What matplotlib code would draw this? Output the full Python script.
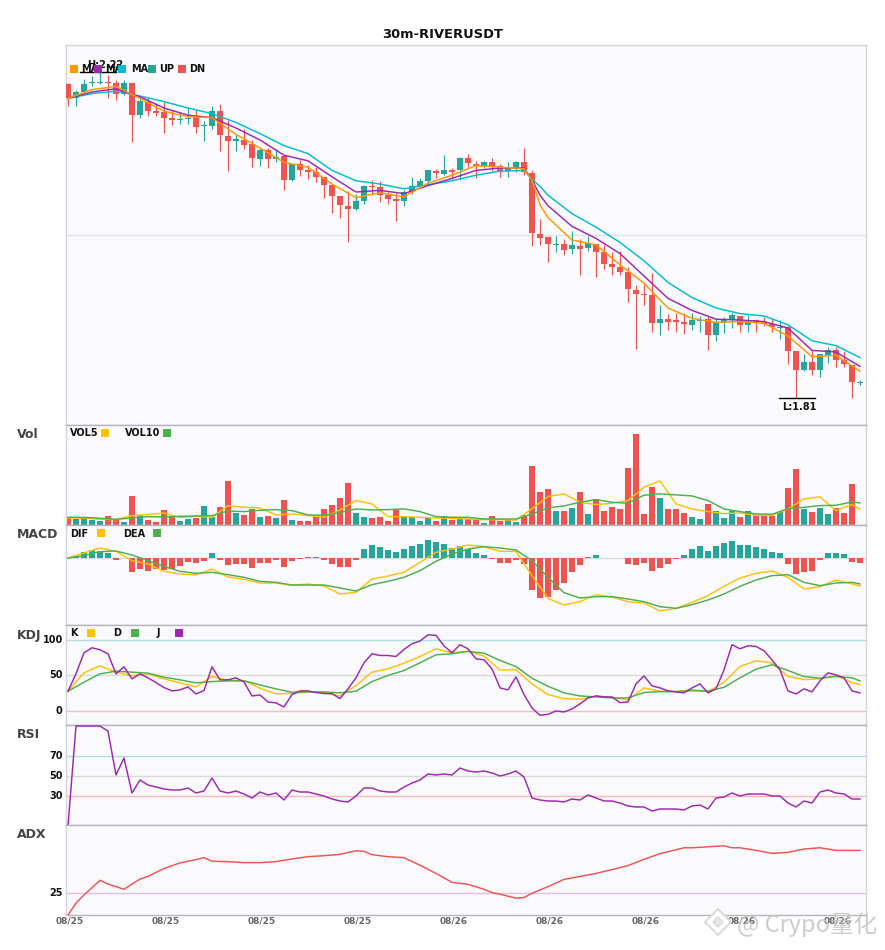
import matplotlib
matplotlib.use('Agg')
import matplotlib.pyplot as plt
from matplotlib.patches import Rectangle, Polygon

W, H = 885, 950

# candles
opens = [2.205,2.187,2.195,2.206,2.206,2.207,2.206,2.193,2.206,2.166,
         2.183,2.171,2.170,2.163,2.160,2.161,2.164,2.152,2.153,2.171,
         2.140,2.134,2.135,2.130,2.111,2.123,2.111,2.115,2.085,2.105,
         2.098,2.095,2.089,2.079,2.065,2.053,2.049,2.059,2.078,2.076,
         2.066,2.061,2.059,2.070,2.078,2.084,2.096,2.093,2.098,2.098,
         2.113,2.105,2.103,2.108,2.103,2.096,2.101,2.108,2.094,2.018,
         2.014,2.004,2.005,1.999,2.003,2.000,2.005,1.995,1.980,1.976,
         1.970,1.948,1.943,1.941,1.906,1.911,1.909,1.908,1.904,1.909,
         1.911,1.891,1.908,1.910,1.915,1.904,1.909,1.908,1.905,1.900,
         1.901,1.871,1.848,1.858,1.848,1.866,1.873,1.860,1.854,1.831]
closes = [2.187,2.195,2.205,2.208,2.208,2.206,2.193,2.206,2.166,2.184,
          2.171,2.169,2.163,2.160,2.161,2.163,2.151,2.154,2.171,2.141,
          2.134,2.136,2.129,2.113,2.123,2.111,2.114,2.085,2.105,2.098,
          2.095,2.089,2.079,2.065,2.054,2.049,2.059,2.078,2.076,2.066,
          2.061,2.059,2.070,2.078,2.084,2.098,2.094,2.098,2.095,2.113,
          2.106,2.103,2.108,2.103,2.096,2.100,2.108,2.095,2.019,2.013,
          2.005,2.005,1.998,2.004,1.999,2.006,1.995,1.980,1.976,1.970,
          1.949,1.943,1.941,1.906,1.911,1.908,1.908,1.905,1.910,1.910,
          1.891,1.908,1.910,1.916,1.904,1.909,1.908,1.905,1.901,1.901,
          1.871,1.848,1.858,1.848,1.868,1.873,1.860,1.855,1.833,1.833]
highs = [2.206,2.198,2.211,2.215,2.220,2.216,2.210,2.210,2.206,2.188,
         2.187,2.181,2.182,2.172,2.170,2.175,2.173,2.159,2.178,2.180,
         2.160,2.141,2.149,2.135,2.125,2.125,2.124,2.116,2.105,2.110,
         2.104,2.101,2.089,2.079,2.065,2.071,2.068,2.079,2.085,2.084,
         2.070,2.069,2.073,2.089,2.088,2.098,2.099,2.116,2.100,2.114,
         2.118,2.109,2.109,2.113,2.105,2.108,2.109,2.125,2.098,2.036,
         2.015,2.015,2.011,2.021,2.011,2.015,2.005,2.004,1.995,1.996,
         1.976,1.954,1.955,1.969,1.929,1.918,1.919,1.919,1.919,1.915,
         1.915,1.913,1.914,1.919,1.915,1.916,1.911,1.914,1.911,1.910,
         1.903,1.871,1.868,1.873,1.868,1.876,1.876,1.871,1.854,1.835]
lows = [2.178,2.177,2.195,2.202,2.205,2.187,2.185,2.191,2.132,2.162,
        2.165,2.165,2.144,2.154,2.155,2.155,2.144,2.134,2.149,2.121,
        2.096,2.121,2.124,2.101,2.103,2.100,2.108,2.073,2.084,2.090,
        2.086,2.083,2.063,2.044,2.038,2.008,2.048,2.055,2.068,2.058,
        2.055,2.034,2.053,2.068,2.075,2.079,2.088,2.091,2.086,2.085,
        2.101,2.088,2.100,2.096,2.089,2.089,2.095,2.091,2.003,2.004,
        1.983,1.995,1.991,1.993,1.966,1.996,1.964,1.974,1.966,1.966,
        1.933,1.874,1.929,1.895,1.891,1.898,1.895,1.893,1.898,1.895,
        1.873,1.884,1.894,1.900,1.895,1.895,1.895,1.903,1.895,1.886,
        1.855,1.8125,1.846,1.841,1.839,1.856,1.851,1.851,1.8125,1.829]

# moving averages, read every third candle and through the drop at 57-60
ma_idx = list(range(0, 58, 3)) + [58, 59] + list(range(60, 100, 3))
ma_fast = [2.187,2.198,2.202,2.187,2.171,2.164,2.163,2.142,2.125,2.107,2.101,2.080,
           2.063,2.069,2.064,2.081,2.091,2.103,2.101,2.099,2.085,2.054,2.038,2.010,2.004,1.979,
           1.956,1.925,1.912,1.907,1.908,1.906,1.890,1.864,1.866,1.846]
ma_mid = [2.187,2.195,2.199,2.189,2.175,2.166,2.163,2.150,2.135,2.116,2.109,2.089,
          2.070,2.072,2.068,2.078,2.087,2.097,2.100,2.100,2.085,2.066,2.053,2.027,2.012,1.993,
          1.965,1.937,1.922,1.911,1.910,1.908,1.900,1.872,1.870,1.852]
ma_slow = [2.187,2.193,2.196,2.190,2.183,2.175,2.168,2.157,2.143,2.128,2.118,2.097,
           2.084,2.080,2.074,2.079,2.084,2.091,2.096,2.097,2.086,2.077,2.066,2.043,2.026,2.007,
           1.984,1.957,1.938,1.925,1.918,1.915,1.904,1.884,1.878,1.863]
grid_price = 2.01625

volumes = [21,18,20,16,13,28,16,10,88,31,16,10,46,25,13,19,22,58,25,55,
           133,37,31,49,25,28,22,76,16,13,13,25,49,61,82,127,37,25,22,25,
           13,46,25,25,13,25,13,28,16,22,19,19,7,28,13,16,10,31,175,100,
           109,43,43,52,100,34,79,43,55,49,169,271,34,115,82,49,49,37,25,19,
           64,43,22,43,25,43,31,28,28,40,112,166,49,40,52,34,52,37,124,1]
even_idx = list(range(0, 100, 2)) + [99]
vol5 = [21,21,17,16,28,31,36,22,26,23,58,53,51,30,33,28,23,45,73,63,25,25,23,21,20,
        18,16,16,14,49,85,93,68,61,65,73,113,132,63,48,40,34,36,29,29,48,78,84,43,61,47]
vol10 = [23,23,20,17,21,25,24,26,27,28,42,40,44,46,43,30,29,37,48,45,46,48,40,25,23,
         23,18,18,18,33,51,57,68,76,68,65,89,93,90,87,73,48,40,33,32,49,53,58,59,69,66]

macd_hist = [0,6,19,25,22,16,-5,0,-41,-32,-38,-32,-35,-32,-23,-11,-14,-8,16,-5,
             -20,-17,-17,-29,-14,-14,-5,-26,-8,-2,4,4,-5,-17,-26,-26,-5,28,40,34,
             25,19,28,37,43,55,49,43,31,37,28,16,10,-2,-14,-14,-5,-17,-95,-119,
             -116,-95,-74,-41,-20,4,10,0,0,0,-17,-20,-14,-38,-29,-17,-2,10,28,37,
             22,37,46,52,40,40,34,28,19,16,-17,-47,-41,-38,-5,16,16,13,-11,-14]
dif = [0,15,30,20,-8,-18,-40,-48,-51,-33,-57,-64,-75,-75,-82,-78,-84,-108,-103,-63,-54,-43,-13,17,27,
       39,34,20,20,-53,-121,-141,-131,-110,-117,-131,-135,-159,-151,-133,-113,-85,-60,-46,-39,-58,-93,-86,-66,-78,-84]
dea = [0,7,19,21,9,-8,-25,-40,-46,-43,-50,-58,-70,-73,-81,-81,-81,-90,-99,-80,-70,-58,-38,-10,12,
       27,34,30,24,-8,-58,-104,-120,-116,-116,-123,-131,-146,-151,-140,-126,-108,-85,-66,-53,-50,-73,-83,-75,-73,-78]

kdj_k = [27.7,53.5,63.4,54.5,49.8,52.1,45.1,39.4,33.8,48.4,42.7,42.7,31.9,23.9,24.9,26.8,25.8,21.1,35.7,54.5,59.2,67.1,76.5,87.3,81.7,
         84.0,77.0,57.7,57.7,38.0,23.0,17.4,16.4,21.1,19.2,15.5,32.4,27.7,27.2,30.0,27.2,40.4,62.4,70.4,67.6,48.4,44.1,45.1,49.8,39.9,37.1]
kdj_d = [27.7,40.4,52.1,55.9,54.5,53.1,47.4,43.7,39.4,41.3,42.3,42.3,36.6,31.0,26.3,26.8,26.8,25.4,27.7,41.3,49.8,56.8,67.6,78.9,80.3,
         83.6,81.2,70.9,62.4,46.0,34.7,25.4,21.1,19.7,18.3,18.3,25.8,27.2,27.2,28.6,27.7,33.3,46.5,58.7,64.8,56.8,48.4,46.0,48.4,46.5,42.3]
kdj_j = [27.7,52.1,81.7,88.7,85.9,80.3,52.1,62.0,45.1,52.1,46.5,39.9,32.9,28.2,29.6,33.8,23.9,28.6,62.0,43.7,
         43.7,46.5,40.8,21.1,22.5,12.7,11.3,5.6,23.0,28.2,28.2,25.8,24.4,24.4,17.4,31.0,46.5,67.6,80.3,77.9,
         77.9,76.5,86.4,94.4,98.1,107.0,106.1,91.5,81.7,93.0,87.3,73.2,71.8,59.2,32.4,29.6,47.9,23.0,4.2,-6.1,
         -4.7,0.0,-1.4,2.8,9.9,18.3,21.1,19.7,19.7,11.7,12.7,38.0,49.3,35.2,32.4,28.2,26.8,25.4,32.4,38.0,
         25.4,31.0,57.7,93.0,87.3,91.5,90.6,84.5,71.8,57.7,28.2,23.9,31.0,26.8,42.3,53.5,50.7,46.5,28.2,25.4]

rsi = [0,100,100,100,100,95,51,68,33,46,41,39,37,36,36,38,33,35,48,35,
       33,35,32,28,34,31,33,26,36,34,34,32,30,27,25,24,30,38,38,35,
       34,34,39,43,46,52,51,52,51,58,55,54,55,53,50,52,55,49,28,26,
       25,25,24,27,26,31,28,25,25,23,20,19,19,15,17,17,17,16,20,21,
       17,28,29,33,30,32,32,32,30,30,23,19,25,23,34,36,33,32,27,27]

adx_idx = [0,1,2,4,5,7,8,9,10,12,14,16,17,18,20,22,24,26,28,30,32,34,36,37,38,40,42,44,46,
           48,50,52,53,54,56,57,58,60,62,64,66,68,70,72,74,76,77,78,80,82,83,84,86,88,90,92,94,96,98,99]
adx = [0,13.2,22.3,38.5,34.4,28.6,34.4,39.9,42.9,51.6,57.9,61.5,63.7,59.7,59.3,58.2,58.2,59.3,62.3,64.8,65.9,67.4,71.4,70.7,67,64.8,63.7,55.3,46.2,
       36.3,34.1,28.6,24.9,23.1,18.7,19.4,24.2,31.5,39.6,42.9,46.2,50.5,54.9,61.9,68.1,72.5,74.7,74.7,75.8,76.9,74.7,74.7,71.8,68.5,69.6,73.3,74.7,71.8,71.8,71.8]

tick_idx = list(range(0, 100, 12))
tick_labels = ['08/25'] * 4 + ['08/26'] * 5

RED = '#EF5350'
TEAL = '#26A69A'
ORANGE = '#FF9800'
PURPLE = '#9C27B0'
CYAN = '#00BCD4'
YELLOW = '#FFC107'
GREEN = '#4CAF50'
BG = '#FAFAFD'
EDGE = '#B4B4BC'
HL_UP = '#B2DFDB'
HL_MID = '#D9D9D9'
HL_DN = '#FFB9B9'
HL_ADX = '#E1BEE7'
LW = 1.05
BAR_W = 0.72

plt.rcParams['font.family'] = ['DejaVu Sans']


def panel(fig, top, bottom, ylim, first=False):
    ax = fig.add_axes([65.5 / W, 1 - bottom / H, (866 - 65.5) / W, (bottom - top) / H])
    ax.set_facecolor(BG)
    ax.set_xlim(-0.31, 99.75)
    ax.set_ylim(*ylim)
    ax.set_xticks([])
    ax.set_yticks([])
    for s in ax.spines.values():
        s.set_linewidth(1)
        s.set_color('#D4D4DC')
    ax.spines['bottom'].set_color(EDGE)
    if not first:
        ax.spines['top'].set_color(EDGE)
    return ax


def label(fig, x, y, txt, size=7, color='#111111', ha='left', zorder=3):
    fig.text(x / W, 1 - y / H, txt, fontsize=size, fontweight='bold', color=color,
             ha=ha, va='center', zorder=zorder)


def square(fig, x, y, color):
    fig.add_artist(Rectangle((x / W, 1 - (y + 4) / H), 8 / W, 8 / H, transform=fig.transFigure,
                             facecolor=color, edgecolor='none', zorder=5))


def diamond(fig, cx, cy, r, face, edge, lw):
    pts = [(cx / W, 1 - (cy - r) / H), ((cx + r) / W, 1 - cy / H),
           (cx / W, 1 - (cy + r) / H), ((cx - r) / W, 1 - cy / H)]
    fig.add_artist(Polygon(pts, closed=True, transform=fig.transFigure, facecolor=face,
                           edgecolor=edge, lw=lw, zorder=6))


def y_labels(ax, values):
    for v in values:
        ax.annotate(str(v), (0, v), xycoords=('axes fraction', 'data'), xytext=(-2, 0),
                    textcoords='offset points', ha='right', va='center',
                    fontsize=7, fontweight='bold', color='#111111')


def main():
    fig = plt.figure(figsize=(W / 100, H / 100), dpi=100, facecolor='white')
    xs = list(range(len(closes)))
    colors = [TEAL if c >= o else RED for o, c in zip(opens, closes)]

    # price
    ax = panel(fig, 45, 425, (1.77875, 2.25375), first=True)
    ax.axhline(grid_price, color='#E2E2E6', lw=1, zorder=1)
    ax.vlines(xs, lows, highs, colors=colors, lw=0.85, zorder=2)
    bodies = [max(abs(c - o), 0.0014) for o, c in zip(opens, closes)]
    ax.bar(xs, bodies, bottom=[min(o, c) for o, c in zip(opens, closes)], width=BAR_W, color=colors, zorder=3)
    ax.plot(ma_idx, ma_slow, color=CYAN, lw=LW, zorder=4)
    ax.plot(ma_idx, ma_mid, color=PURPLE, lw=LW, zorder=4)
    ax.plot(ma_idx, ma_fast, color=ORANGE, lw=LW, zorder=4)

    ax.plot([1.5, 6], [max(highs)] * 2, color='black', lw=1, zorder=5)
    ax.annotate('H:2.22', (highs.index(max(highs)) + 0.6, max(highs)), xytext=(0, 1.5), textcoords='offset points',
                ha='center', va='bottom', fontsize=7, fontweight='bold', color='#111111', zorder=5)
    ax.plot([88.9, 93.4], [min(lows)] * 2, color='black', lw=1, zorder=5)
    ax.annotate('L:1.81', (91.4, min(lows)), xytext=(0, -3), textcoords='offset points',
                ha='center', va='top', fontsize=7, fontweight='bold', color='#111111', zorder=5)

    # legend of the price panel, the first names run under the next square
    for x_t, txt, x_s, c in [(81, 'MA', 70, ORANGE), (105, 'MA', 94, PURPLE), (131, 'MA', 118, CYAN),
                             (159, 'UP', 148, TEAL), (189, 'DN', 178, RED)]:
        label(fig, x_t, 69, txt)
        square(fig, x_s, 69, c)

    # volume
    ax = panel(fig, 425, 525, (0, 299))
    ax.bar(xs, volumes, width=BAR_W, color=colors, zorder=2)
    ax.plot(even_idx, vol5, color=YELLOW, lw=LW, zorder=3)
    ax.plot(even_idx, vol10, color=GREEN, lw=LW, zorder=3)
    label(fig, 70, 433, 'VOL5')
    square(fig, 101, 433, YELLOW)
    label(fig, 125, 433, 'VOL10')
    square(fig, 163, 433, GREEN)
    label(fig, 17, 435, 'Vol', size=9, color='#444444')

    # macd
    ax = panel(fig, 525, 625, (-201, 99))
    ax.axhline(0, color='#DCDCDC', lw=1, zorder=1)
    ax.bar(xs, macd_hist, width=BAR_W, color=[TEAL if v > 0 else RED for v in macd_hist], zorder=2)
    ax.plot(even_idx, dif, color=YELLOW, lw=LW, zorder=3)
    ax.plot(even_idx, dea, color=GREEN, lw=LW, zorder=3)
    label(fig, 70, 534, 'DIF')
    square(fig, 97, 533, YELLOW)
    label(fig, 123, 534, 'DEA')
    square(fig, 153, 533, GREEN)
    label(fig, 17, 535, 'MACD', size=9, color='#444444')

    # kdj
    ax = panel(fig, 625, 725, (-19.7, 120.7))
    ax.axhline(100, color=HL_UP, lw=1, zorder=1)
    ax.axhline(50, color=HL_MID, lw=1, zorder=1)
    ax.axhline(0, color=HL_DN, lw=1, zorder=1)
    ax.plot(even_idx, kdj_k, color=YELLOW, lw=LW, zorder=3)
    ax.plot(even_idx, kdj_d, color=GREEN, lw=LW, zorder=3)
    ax.plot(xs, kdj_j, color=PURPLE, lw=LW, zorder=4)
    y_labels(ax, [100, 50, 0])
    label(fig, 70, 633, 'K')
    square(fig, 87, 633, YELLOW)
    label(fig, 113, 633, 'D')
    square(fig, 131, 633, GREEN)
    label(fig, 157, 633, 'J')
    square(fig, 175, 633, PURPLE)
    label(fig, 17, 635, 'KDJ', size=9, color='#444444')

    # rsi
    ax = panel(fig, 725, 825, (1, 101))
    ax.axhline(70, color=HL_UP, lw=1, zorder=1)
    ax.axhline(50, color=HL_MID, lw=1, zorder=1)
    ax.axhline(30, color=HL_DN, lw=1, zorder=1)
    ax.plot(xs, rsi, color=PURPLE, lw=LW, zorder=3)
    y_labels(ax, [70, 50, 30])
    label(fig, 17, 735, 'RSI', size=9, color='#444444')

    # adx
    ax = panel(fig, 825, 915, (0, 100))
    ax.axhline(25, color=HL_ADX, lw=1, zorder=1)
    ax.plot(adx_idx, adx, color=RED, lw=LW, zorder=3)
    y_labels(ax, [25])
    label(fig, 17, 835, 'ADX', size=9, color='#444444')
    ax.set_xticks([i + 0.25 for i in tick_idx])
    ax.set_xticklabels(tick_labels, fontsize=6.5, fontweight='bold', color='#666666')
    ax.tick_params(axis='x', length=0, pad=1)

    fig.text(443 / W, 1 - 34 / H, '30m-RIVERUSDT', fontsize=9.4, fontweight='bold', color='#111111',
             ha='center', va='center')

    # watermark over the last tick labels
    diamond(fig, 718, 922, 13, 'white', '#DADADA', 1.5)
    diamond(fig, 718, 922, 5, '#E6E6E6', '#DADADA', 1)
    fig.text(737 / W, 1 - 925 / H, '@ Crypo量化', fontsize=17, color='#C4C4C4', alpha=0.85,
             family=['Noto Sans CJK SC', 'DejaVu Sans'], ha='left', va='center', zorder=6)

    fig.savefig('out.png', dpi=100)


if __name__ == '__main__':
    main()
